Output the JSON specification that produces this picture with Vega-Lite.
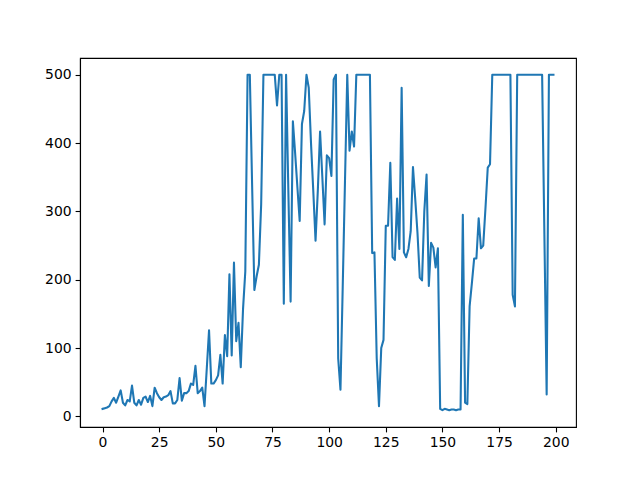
{
  "$schema": "https://vega.github.io/schema/vega-lite/v6.json",
  "width": 496,
  "height": 369,
  "autosize": {"type": "none"},
  "padding": {"left": 80, "top": 58, "right": 64, "bottom": 51},
  "background": "white",
  "config": {
    "view": {"stroke": "black", "strokeWidth": 1.1},
    "axis": {
      "grid": false,
      "domainColor": "black",
      "domainWidth": 1.1,
      "tickColor": "black",
      "tickWidth": 1.1,
      "tickSize": 4.9,
      "labelFont": "DejaVu Sans",
      "labelFontSize": 13.9,
      "labelColor": "black",
      "labelPadding": 4,
      "title": null
    }
  },
  "data": {"values": [
    {"x":0,"y":11},{"x":1,"y":12},{"x":2,"y":13},{"x":3,"y":15},{"x":4,"y":22},{"x":5,"y":27},{"x":6,"y":20},{"x":7,"y":29},{"x":8,"y":38},{"x":9,"y":20},
    {"x":10,"y":16},{"x":11,"y":24},{"x":12,"y":22},{"x":13,"y":45},{"x":14,"y":20},{"x":15,"y":16},{"x":16,"y":24},{"x":17,"y":17},{"x":18,"y":27},{"x":19,"y":29},
    {"x":20,"y":21},{"x":21,"y":30},{"x":22,"y":15},{"x":23,"y":42},{"x":24,"y":34},{"x":25,"y":28},{"x":26,"y":24},{"x":27,"y":28},{"x":28,"y":29},{"x":29,"y":31},
    {"x":30,"y":37},{"x":31,"y":19},{"x":32,"y":19},{"x":33,"y":24},{"x":34,"y":56},{"x":35,"y":23},{"x":36,"y":34},{"x":37,"y":34},{"x":38,"y":37},{"x":39,"y":48},
    {"x":40,"y":46},{"x":41,"y":74},{"x":42,"y":34},{"x":43,"y":37},{"x":44,"y":42},{"x":45,"y":15},{"x":46,"y":70},{"x":47,"y":126},{"x":48,"y":48},{"x":49,"y":48},
    {"x":50,"y":53},{"x":51,"y":60},{"x":52,"y":90},{"x":53,"y":48},{"x":54,"y":119},{"x":55,"y":88},{"x":56,"y":208},{"x":57,"y":89},{"x":58,"y":225},{"x":59,"y":110},
    {"x":60,"y":137},{"x":61,"y":72},{"x":62,"y":157},{"x":63,"y":212},{"x":64,"y":500},{"x":65,"y":500},{"x":66,"y":340},{"x":67,"y":185},{"x":68,"y":205},{"x":69,"y":222},
    {"x":70,"y":310},{"x":71,"y":500},{"x":72,"y":500},{"x":73,"y":500},{"x":74,"y":500},{"x":75,"y":500},{"x":76,"y":500},{"x":77,"y":455},{"x":78,"y":500},{"x":79,"y":500},
    {"x":80,"y":165},{"x":81,"y":500},{"x":82,"y":330},{"x":83,"y":168},{"x":84,"y":432},{"x":85,"y":385},{"x":86,"y":335},{"x":87,"y":286},{"x":88,"y":428},{"x":89,"y":447},
    {"x":90,"y":500},{"x":91,"y":481},{"x":92,"y":400},{"x":93,"y":330},{"x":94,"y":257},{"x":95,"y":330},{"x":96,"y":417},{"x":97,"y":350},{"x":98,"y":281},{"x":99,"y":382},
    {"x":100,"y":378},{"x":101,"y":352},{"x":102,"y":493},{"x":103,"y":500},{"x":104,"y":85},{"x":105,"y":39},{"x":106,"y":190},{"x":107,"y":345},{"x":108,"y":500},{"x":109,"y":389},
    {"x":110,"y":417},{"x":111,"y":395},{"x":112,"y":500},{"x":113,"y":500},{"x":114,"y":500},{"x":115,"y":500},{"x":116,"y":500},{"x":117,"y":500},{"x":118,"y":500},{"x":119,"y":239},
    {"x":120,"y":240},{"x":121,"y":85},{"x":122,"y":15},{"x":123,"y":100},{"x":124,"y":112},{"x":125,"y":279},{"x":126,"y":279},{"x":127,"y":371},{"x":128,"y":233},{"x":129,"y":229},
    {"x":130,"y":319},{"x":131,"y":245},{"x":132,"y":481},{"x":133,"y":240},{"x":134,"y":233},{"x":135,"y":245},{"x":136,"y":271},{"x":137,"y":365},{"x":138,"y":318},{"x":139,"y":268},
    {"x":140,"y":203},{"x":141,"y":199},{"x":142,"y":300},{"x":143,"y":354},{"x":144,"y":191},{"x":145,"y":254},{"x":146,"y":247},{"x":147,"y":218},{"x":148,"y":246},{"x":149,"y":11},
    {"x":150,"y":9},{"x":151,"y":11},{"x":152,"y":10},{"x":153,"y":9},{"x":154,"y":10},{"x":155,"y":10},{"x":156,"y":9},{"x":157,"y":10},{"x":158,"y":10},{"x":159,"y":295},
    {"x":160,"y":20},{"x":161,"y":18},{"x":162,"y":161},{"x":163,"y":195},{"x":164,"y":231},{"x":165,"y":231},{"x":166,"y":290},{"x":167,"y":246},{"x":168,"y":250},{"x":169,"y":305},
    {"x":170,"y":364},{"x":171,"y":369},{"x":172,"y":500},{"x":173,"y":500},{"x":174,"y":500},{"x":175,"y":500},{"x":176,"y":500},{"x":177,"y":500},{"x":178,"y":500},{"x":179,"y":500},
    {"x":180,"y":500},{"x":181,"y":178},{"x":182,"y":161},{"x":183,"y":500},{"x":184,"y":500},{"x":185,"y":500},{"x":186,"y":500},{"x":187,"y":500},{"x":188,"y":500},{"x":189,"y":500},
    {"x":190,"y":500},{"x":191,"y":500},{"x":192,"y":500},{"x":193,"y":500},{"x":194,"y":500},{"x":195,"y":266},{"x":196,"y":32},{"x":197,"y":500},{"x":198,"y":500},{"x":199,"y":500}
  ]},
  "mark": {"type": "line", "color": "#1f77b4", "strokeWidth": 2.08, "strokeJoin": "round", "strokeCap": "square"},
  "encoding": {
    "x": {"field": "x", "type": "quantitative", "scale": {"domain": [-9.95, 208.95], "nice": false, "zero": false},
          "axis": {"values": [0, 25, 50, 75, 100, 125, 150, 175, 200]}},
    "y": {"field": "y", "type": "quantitative", "scale": {"domain": [-15.55, 524.55], "nice": false, "zero": false},
          "axis": {"values": [0, 100, 200, 300, 400, 500]}}
  }
}
